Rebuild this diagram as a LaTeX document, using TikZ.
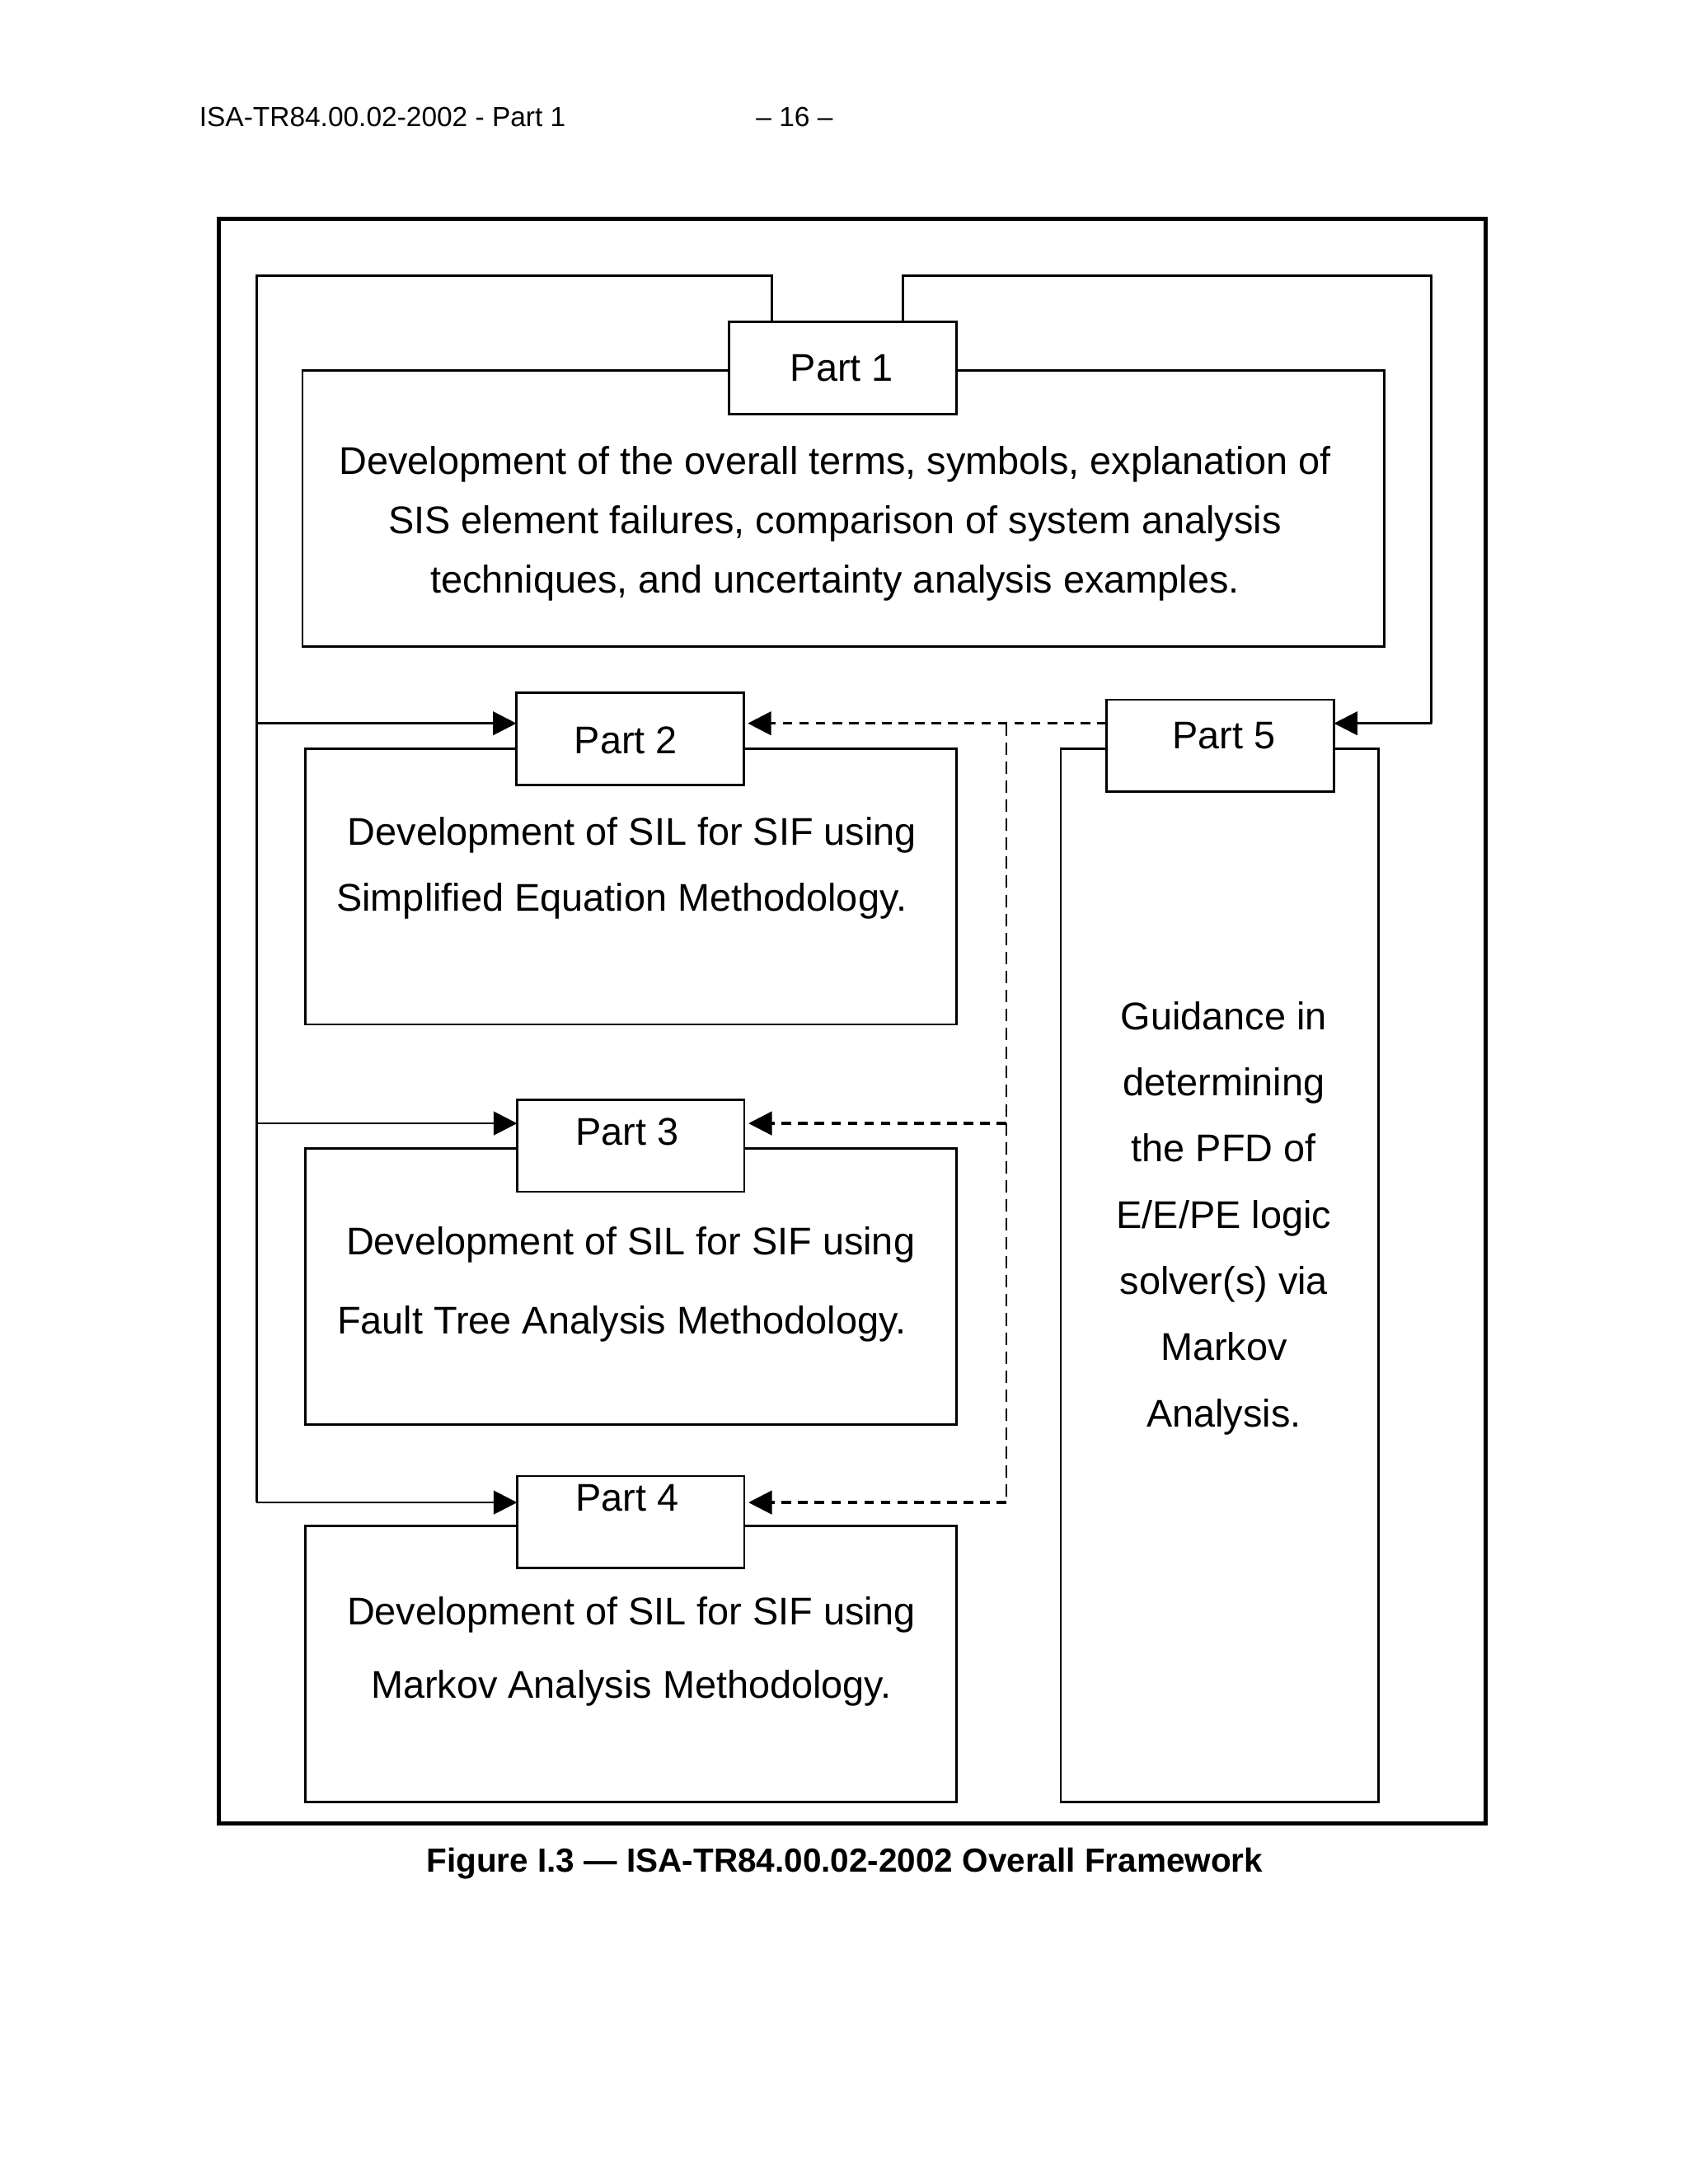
\documentclass[tikz,border=0pt]{standalone}
\usepackage{fontspec}
\setmainfont{Liberation Sans}
\usepackage{tikz}
\usetikzlibrary{arrows.meta,positioning}
\newcommand{\partFont}{\fontsize{14}{14}\selectfont}
\newcommand{\px}{0.50537pt}

\begin{document}
\begin{tikzpicture}[x=\px, y=-\px, line width=0.85pt,
		every node/.style={inner sep=0pt, outer sep=0pt},
		partbox/.style={draw, fill=white, minimum width=163*\px, minimum height=66*\px},
		bigbox/.style={draw, fill=white},
		parttext/.style={font=\partFont},
		bodytext/.style={font=\partFont, align=center},
		arr/.style={-{Triangle[length=8.5pt,width=8.5pt]}},
		dasharr/.style={arr, line width=1pt, dash pattern=on 3.5pt off 2.5pt},
		dashline/.style={line width=0.7pt, dash pattern=on 4.5pt off 2.4pt}]
	\useasboundingbox (0,0) rectangle (1211,1567);
	% page header and frame
	\node[anchor=base west, font=\fontsize{10}{12}\selectfont] (head) at (143,91) {ISA-TR84.00.02-2002 - Part 1};
	\node[anchor=base, font=\fontsize{10}{12}\selectfont] (page) at (570,91) {-- 16 --};
	\node[draw, line width=1.5pt, minimum width=909*\px, minimum height=1151*\px] (frame) at (611.5,732.5) {};
	%
	\node[bigbox, minimum width=776*\px, minimum height=198*\px] (b1) at (605,365) {};
	\node[partbox] (p1) at (604.5,264) {};
	\node[parttext] (p1t) at (604,264) {Part 1};
	\node[bodytext, align=center] (t1) at (599,375.5) {Development of the overall terms, symbols, explanation of\\[7.5pt]
		SIS element failures, comparison of system analysis\\[7.5pt]
		techniques, and uncertainty analysis examples.};
	%
	\node[bigbox, minimum width=467*\px, minimum height=198*\px] (b2) at (452.5,636) {};
	\node[partbox] (p2) at (452,530) {};
	\node[parttext] (p2t) at (449,531) {Part 2};
	\node[bodytext] (t2) at (446,623) {\hspace*{7.5pt}Development of SIL for SIF using\\[10pt]
		Simplified Equation Methodology.};
	%
	\node[bigbox, minimum width=467*\px, minimum height=198*\px] (b3) at (452.5,923) {};
	\node[partbox] (p3) at (452.5,822) {};
	\node[parttext] (p3t) at (450,812) {Part 3};
	\node[bodytext] (t3) at (446,921.5) {\hspace*{6.5pt}Development of SIL for SIF using\\[14.5pt]
		Fault Tree Analysis Methodology.};
	%
	\node[bigbox, minimum width=467*\px, minimum height=198*\px] (b4) at (452.5,1194) {};
	\node[partbox] (p4) at (452.5,1092) {};
	\node[parttext] (p4t) at (450,1075) {Part 4};
	\node[bodytext] (t4) at (453,1185) {Development of SIL for SIF using\\[12.5pt]
		Markov Analysis Methodology.};
	%
	\node[bigbox, minimum width=228*\px, minimum height=756*\px] (b5) at (875,915) {};
	\node[partbox] (p5) at (875.5,535) {};
	\node[parttext] (p5t) at (878,528) {Part 5};
	\node[bodytext] (t5) at (878,874) {Guidance in\\[10pt] determining\\[10pt] the PFD of\\[10pt]
		E/E/PE logic\\[10pt] solver(s) via\\[10pt] Markov\\[10pt] Analysis.};
	% feedback rails
	\coordinate (r2) at (184,519);
	\coordinate (r3) at (184,806);
	\coordinate (r4) at (184,1078);
	\coordinate (r5) at (1027,519);
	\draw (p1.north west) ++(31,0) |- (184,198) -- (r4);
	\draw (p1.north west) ++(125,0) |- (1027,198) -- (r5);
	\draw[arr] (r2) -- (r2 -| p2.west);
	\draw[arr] (r3) -- (r3 -| p3.west);
	\draw[arr] (r4) -- (r4 -| p4.west);
	\draw[arr] (r5) -- (r5 -| p5.east);
	% dashed links from part 5
	\coordinate (d2) at (722,519);
	\coordinate (d3) at (722,806);
	\coordinate (d4) at (722,1078);
	\draw[dashline] (d2) -- (d4);
	\draw[dasharr] (d2 -| p5.west) -- ([xshift=1.5pt]d2 -| p2.east);
	\draw[dasharr] (d3) -- ([xshift=1.5pt]d3 -| p3.east);
	\draw[dasharr] (d4) -- ([xshift=1.5pt]d4 -| p4.east);
	% caption
	\node[font=\bfseries\fontsize{12.1}{14}\selectfont] (cap) at (606,1337) {Figure I.3 --- ISA-TR84.00.02-2002 Overall Framework};
\end{tikzpicture}
\end{document}
